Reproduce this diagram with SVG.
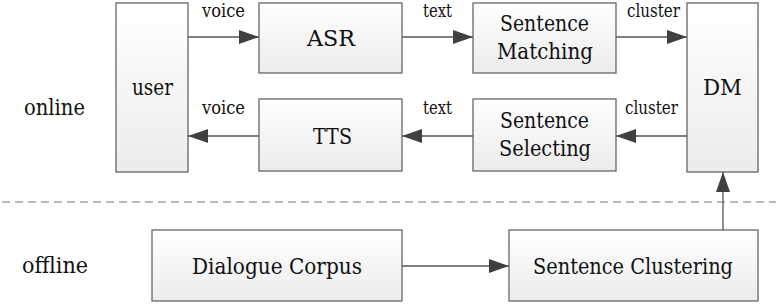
<svg xmlns="http://www.w3.org/2000/svg" width="776" height="304" viewBox="0 0 776 304">
<style>
.box{stroke:#666;stroke-width:1.3;fill:url(#g)}
text{font-family:'DejaVu Serif',serif;fill:#111;text-anchor:start}
.big{font-size:22px}
.sm{font-size:18px}
.ln{stroke:#555;stroke-width:1.3;fill:none;marker-end:url(#ah)}
</style>
<defs>
<linearGradient id="g" x1="0" y1="0" x2="0" y2="1">
<stop offset="0" stop-color="#ffffff"/>
<stop offset="1" stop-color="#ececec"/>
</linearGradient>
<marker id="ah" markerUnits="userSpaceOnUse" markerWidth="20" markerHeight="14" viewBox="0 0 20 14" refX="20" refY="7" orient="auto">
<path d="M0,0 L20,7 L0,14 Z" fill="#404040"/>
</marker>
</defs>
<rect width="776" height="304" fill="#fff"/>
<text class="big" x="24" y="115" textLength="61" lengthAdjust="spacingAndGlyphs">online</text>
<text class="big" x="22" y="273" textLength="66" lengthAdjust="spacingAndGlyphs">offline</text>
<line x1="2" y1="202" x2="776" y2="202" stroke="#777" stroke-width="1.2" stroke-dasharray="8,5"/>
<g id="connectors">
<line class="ln" x1="188" y1="37" x2="259" y2="37"/>
<line class="ln" x1="402" y1="37" x2="473" y2="37"/>
<line class="ln" x1="616" y1="37" x2="687" y2="37"/>
<line class="ln" x1="687" y1="136" x2="616" y2="136"/>
<line class="ln" x1="473" y1="136" x2="402" y2="136"/>
<line class="ln" x1="259" y1="136" x2="188" y2="136"/>
<line class="ln" x1="402" y1="266" x2="509" y2="266"/>
<line class="ln" x1="723" y1="230" x2="723" y2="172"/>
<text class="sm" x="202" y="17" textLength="43" lengthAdjust="spacingAndGlyphs">voice</text>
<text class="sm" x="423" y="17" textLength="29" lengthAdjust="spacingAndGlyphs">text</text>
<text class="sm" x="627" y="17" textLength="53" lengthAdjust="spacingAndGlyphs">cluster</text>
<text class="sm" x="202" y="114" textLength="43" lengthAdjust="spacingAndGlyphs">voice</text>
<text class="sm" x="423" y="114" textLength="29" lengthAdjust="spacingAndGlyphs">text</text>
<text class="sm" x="625" y="114" textLength="53" lengthAdjust="spacingAndGlyphs">cluster</text>
</g>
<g id="user"><rect class="box" x="116" y="3" width="72" height="169"/><text class="big" x="132" y="95" textLength="41" lengthAdjust="spacingAndGlyphs">user</text></g>
<g id="asr"><rect class="box" x="259" y="3" width="143" height="70"/><text class="big" x="307" y="46" textLength="48" lengthAdjust="spacingAndGlyphs">ASR</text></g>
<g id="tts"><rect class="box" x="259" y="99" width="143" height="72"/><text class="big" x="313" y="144" textLength="39" lengthAdjust="spacingAndGlyphs">TTS</text></g>
<g id="matching"><rect class="box" x="473" y="3" width="143" height="70"/><text class="big" x="500" y="31" textLength="89" lengthAdjust="spacingAndGlyphs">Sentence</text><text class="big" x="497" y="59" textLength="96" lengthAdjust="spacingAndGlyphs">Matching</text></g>
<g id="selecting"><rect class="box" x="473" y="99" width="143" height="72"/><text class="big" x="500" y="128" textLength="89" lengthAdjust="spacingAndGlyphs">Sentence</text><text class="big" x="499" y="156" textLength="92" lengthAdjust="spacingAndGlyphs">Selecting</text></g>
<g id="dm"><rect class="box" x="687" y="3" width="71" height="169"/><text class="big" x="703" y="95" textLength="39" lengthAdjust="spacingAndGlyphs">DM</text></g>
<g id="corpus"><rect class="box" x="152" y="230" width="250" height="71"/><text class="big" x="192" y="274" textLength="170" lengthAdjust="spacingAndGlyphs">Dialogue Corpus</text></g>
<g id="clustering"><rect class="box" x="509" y="230" width="249" height="71"/><text class="big" x="533" y="274" textLength="200" lengthAdjust="spacingAndGlyphs">Sentence Clustering</text></g>
</svg>
